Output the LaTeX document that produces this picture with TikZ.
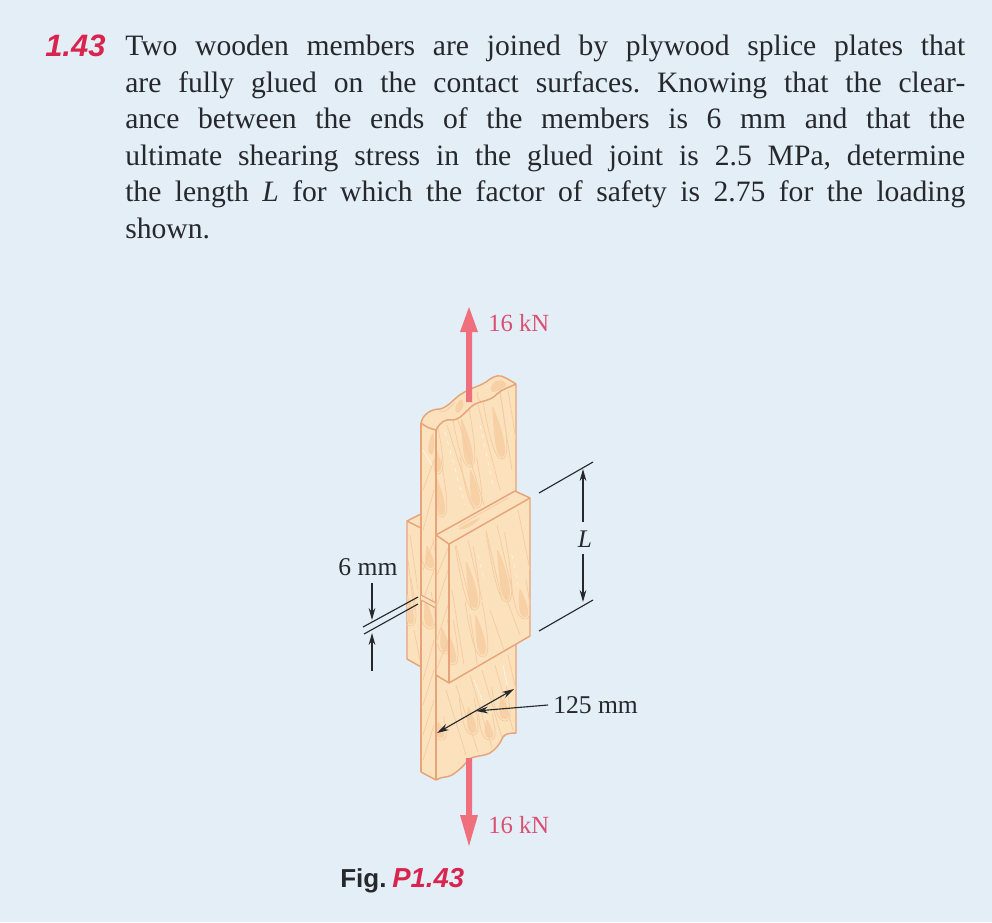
\documentclass[tikz,border=0pt]{standalone}
\usepackage{fontspec}
\setmainfont{Liberation Serif}
\setsansfont{Liberation Sans}
\usetikzlibrary{arrows.meta}
\definecolor{bgc}{HTML}{E4EEF7}
\definecolor{woodc}{HTML}{FCE1BD}
\definecolor{edgec}{HTML}{E7A47A}
\definecolor{grainc}{HTML}{F5CBA3}
\definecolor{tearc}{HTML}{F8D0A5}
\definecolor{forcec}{HTML}{EF6F7C}
\definecolor{magc}{HTML}{D8254F}
\definecolor{kNc}{HTML}{DB4F72}
\definecolor{inkc}{HTML}{26282C}
% flame-shaped grain figure: rounded foot at (x,y), thin tip h above it, leaning left
\newcommand{\woodtear}[3]{%
\fill[tearc] (#1-#3*0.2,#2-#3) .. controls (#1-#3*0.05-5,#2-#3*0.4) and (#1-7,#2) .. (#1,#2) .. controls (#1+6,#2) and (#1+3,#2-#3*0.45) .. (#1-#3*0.2+1,#2-#3) -- cycle;
\draw[grain] (#1-#3*0.3-6,#2-#3*1.35) .. controls (#1-#3*0.12-8,#2-#3*0.5) and (#1-8,#2+2) .. (#1,#2+2) .. controls (#1+8,#2+2) and (#1+5,#2-#3*0.5) .. (#1-#3*0.15+5,#2-#3*1.35);}
\tikzset{
  x=0.75pt,y=-0.75pt,
  wood/.style={fill=woodc,draw=edgec,line width=1.1pt,line join=round},
  grain/.style={draw=grainc,line width=0.55pt},
  edgeline/.style={draw=edgec,line width=1.1pt},
  dimline/.style={draw=inkc,line width=0.85pt},
  dimarrow/.style={draw=inkc,line width=0.85pt,-{Stealth[length=9pt,width=5pt]}},
  force/.style={fill=forcec,draw=none},
  lbl/.style={font=\fontsize{19.2}{22}\selectfont,text=inkc,inner sep=0pt},
  kN/.style={font=\fontsize{18.5}{22}\selectfont,text=kNc,inner sep=0pt,anchor=west},
}
\begin{document}
\begin{tikzpicture}
\useasboundingbox[fill=bgc] (0,0) rectangle (992,922);

% problem text
\node[inner sep=0pt,anchor=north west,text=inkc,align=left,font=\fontsize{22.2}{27.35}\selectfont\frenchspacing] (body) at (125,35)
{\makebox[840\dimexpr0.75pt\relax][s]{Two wooden members are joined by plywood splice plates that}\\
\makebox[840\dimexpr0.75pt\relax][s]{are fully glued on the contact surfaces. Knowing that the clear-}\\
\makebox[840\dimexpr0.75pt\relax][s]{ance between the ends of the members is 6 mm and that the}\\
\makebox[840\dimexpr0.75pt\relax][s]{ultimate shearing stress in the glued joint is 2.5 MPa, determine}\\
\makebox[840\dimexpr0.75pt\relax][s]{the length \textit{L} for which the factor of safety is 2.75 for the loading}\\
shown.};
\node[inner sep=0pt,anchor=base west,text=magc,font=\fontsize{23.2}{26}\selectfont\sffamily\bfseries\itshape] (num) at (45,56) {1.43};

% back plate
\path[wood] (407,521) -- (421,514) -- (436,522) -- (436,675) -- (421,667) -- (407,659) -- cycle;
\begin{scope}
\clip (407,521) -- (421,528) -- (421,667) -- (407,659) -- cycle;
\woodtear{411}{624}{34}
\draw[grain] (410,535) -- (418,590) (408,560) -- (414,610) (414,630) -- (420,660);
\end{scope}
\draw[edgeline] (407,521) -- (421,528);

% main member
\path[wood] (421,423) .. controls (423,414) and (431,409) .. (440,409)
  .. controls (449,407) and (456,396) .. (463,393) .. controls (470,388) and (478,387) .. (486,382)
  .. controls (491,378) and (496,375) .. (501,376) .. controls (507,378) and (511,381) .. (516,384) -- (516,733)
  .. controls (509,733) and (505,734) .. (503,737) .. controls (500,744) and (496,749) .. (490,753)
  .. controls (482,757) and (474,755) .. (468,760) .. controls (463,767) and (458,771) .. (452,775)
  .. controls (447,778) and (442,776) .. (436,780) -- (421,772) -- cycle;

% front face grain
\begin{scope}
\clip (436,430) .. controls (441,421) and (446,419) .. (452,420) .. controls (460,420) and (465,412) .. (472,406)
  .. controls (480,400) and (490,402) .. (497,394) .. controls (502,389) and (510,387) .. (516,384) -- (516,733)
  .. controls (509,733) and (505,734) .. (503,737) .. controls (500,744) and (496,749) .. (490,753)
  .. controls (482,757) and (474,755) .. (468,760) .. controls (463,767) and (458,771) .. (452,775)
  .. controls (447,778) and (442,776) .. (436,780) -- cycle;
\woodtear{470}{465}{46}
\woodtear{502}{457}{50}
\woodtear{442}{515}{42}
\woodtear{477}{506}{36}
\woodtear{438}{472}{32}
\woodtear{473}{733}{26}
\woodtear{505}{719}{24}
\woodtear{490}{738}{18}
\woodtear{441}{738}{16}
\draw[grain] (447,425) -- (474,510) (458,420) -- (484,505) (478,405) -- (500,490) (500,393) -- (512,470) (508,390) -- (516,440);
\draw[grain] (446,690) -- (466,755) (456,685) -- (478,752) (470,675) -- (492,748) (482,670) -- (502,738) (495,665) -- (513,730) (508,655) -- (516,690);
\draw[white!65!woodc,line width=0.5pt,dash pattern=on 3pt off 4pt] (445,432) -- (465,505) (480,425) -- (494,490);
\draw[white!55!woodc,line width=0.6pt] (474,680) -- (482,700) (503,665) -- (507,685);
\end{scope}

% top surface loops
\begin{scope}
\clip (421,423) .. controls (423,414) and (431,409) .. (440,409)
  .. controls (449,407) and (456,396) .. (463,393) .. controls (470,388) and (478,387) .. (486,382)
  .. controls (491,378) and (496,375) .. (501,376) .. controls (507,378) and (511,381) .. (516,384)
  .. controls (510,387) and (502,389) .. (497,394) .. controls (490,402) and (480,400) .. (472,406)
  .. controls (465,412) and (460,420) .. (452,420) .. controls (446,419) and (441,421) .. (436,430) -- cycle;
\fill[tearc] (496,381) .. controls (501,379) and (507,382) .. (506,385) .. controls (503,390) and (496,392) .. (492,392) .. controls (489,389) and (492,383) .. (496,381) -- cycle;
\fill[tearc] (460,400) .. controls (463,398) and (464,402) .. (463,407) .. controls (461,412) and (458,414) .. (456,412) .. controls (454,408) and (457,403) .. (460,400) -- cycle;
\draw[grain] (440,412) .. controls (446,412) and (450,408) .. (455,402) (478,392) .. controls (476,396) and (478,400) .. (482,402);
\end{scope}
\draw[edgeline] (421,423) .. controls (426,427) and (431,429) .. (436,430)
  .. controls (441,421) and (446,419) .. (452,420) .. controls (460,420) and (465,412) .. (472,406)
  .. controls (480,400) and (490,402) .. (497,394) .. controls (502,389) and (510,387) .. (516,384);

% side face grain
\begin{scope}
\clip (421,423) -- (436,430) -- (436,780) -- (421,772) -- cycle;
\fill[tearc] (433,432) .. controls (435,440) and (435,450) .. (432,455) .. controls (428,455) and (426,445) .. (433,432) -- cycle;
\fill[tearc] (436,476) .. controls (433,472) and (433,462) .. (436,450) -- cycle;
\woodtear{431}{568}{22}
\woodtear{430}{627}{26}
\draw[grain] (423,490) -- (434,460) (423,530) -- (434,490) (423,570) -- (434,540) (423,600) -- (434,570) (423,680) -- (434,640) (423,705) -- (434,670) (423,735) -- (434,700) (423,760) -- (434,725);
\draw[white!65!woodc,line width=0.5pt] (423,450) -- (432,465);
\end{scope}
\draw[edgeline] (436,430) -- (436,780);
\draw[edgeline] (421,423) -- (421,772);

% gap between ends of the members
\fill[woodc] (421,595) -- (436,603) -- (436,608) -- (421,600) -- cycle;
\draw[edgeline,line width=0.8pt] (421,595) -- (436,603) (421,600) -- (436,608);

% front plate
\path[wood] (436,535) -- (515,491) -- (530,498) -- (530,636) -- (449,683) -- (436,675) -- cycle;
\begin{scope}
\clip (449,544) -- (530,498) -- (530,636) -- (449,683) -- cycle;
\woodtear{475}{608}{46}
\woodtear{507}{600}{50}
\woodtear{483}{655}{40}
\woodtear{525}{617}{28}
\woodtear{453}{663}{32}
\draw[grain] (456,545) -- (472,610) (468,540) -- (482,600) (486,530) -- (502,600) (497,525) -- (512,590) (518,510) -- (530,570) (452,590) -- (464,665) (490,610) -- (504,650) (505,595) -- (520,635) (470,615) -- (478,670);
\draw[white!55!woodc,line width=0.5pt,dash pattern=on 3pt off 4pt] (478,555) -- (484,580) (512,555) -- (518,585);
\end{scope}
\begin{scope}
\clip (436,535) -- (449,544) -- (449,683) -- (436,675) -- cycle;
\woodtear{446}{652}{24}
\draw[grain] (437,575) -- (448,548) (437,605) -- (448,570) (437,640) -- (448,605) (437,668) -- (448,640);
\end{scope}
\draw[edgeline] (436,535) -- (449,544) -- (530,498);
\draw[edgeline] (449,544) -- (449,683);
\fill[tearc] (458,529) .. controls (468,522) and (474,520) .. (480,518) .. controls (476,524) and (464,531) .. (458,529) -- cycle;
\draw[grain] (459,526) .. controls (472,518) and (490,508) .. (508,498);

% forces
\path[force] (466,402) -- (466,332) -- (460,332) -- (469,307) -- (478,332) -- (472,332) -- (472,402) -- cycle;
\path[force] (466,758) -- (466,815) -- (460,815) -- (469,846) -- (478,815) -- (472,815) -- (472,758) -- cycle;
\node[kN] (ftop) at (488,323) {16 kN};
\node[kN] (fbot) at (488,825) {16 kN};

% L dimension
\coordinate (lt1) at (539,493); \coordinate (lt2) at (593,462);
\coordinate (lb1) at (539,631); \coordinate (lb2) at (593,600);
\draw[dimline] (lt1) -- (lt2);
\draw[dimline] (lb1) -- (lb2);
\node[lbl,font=\fontsize{19}{22}\selectfont\itshape] (ell) at (585,539) {L};
\coordinate (la) at (583,522); \coordinate (lat) at (583,469);
\coordinate (lc) at (583,554); \coordinate (lct) at (583,602);
\draw[dimarrow] (la) -- (lat);
\draw[dimarrow] (lc) -- (lct);

% 6 mm dimension
\node[lbl] (six) at (368,567) {6 mm};
\coordinate (g1a) at (363,627); \coordinate (g1b) at (418,597);
\coordinate (g2a) at (364,634); \coordinate (g2b) at (418,604);
\draw[dimline] (g1a) -- (g1b);
\draw[dimline] (g2a) -- (g2b);
\coordinate (s1) at (372,583); \coordinate (s1t) at (372,620);
\coordinate (s2) at (372,671); \coordinate (s2t) at (372,633);
\draw[dimarrow] (s1) -- (s1t);
\draw[dimarrow] (s2) -- (s2t);

% 125 mm dimension
\node[lbl,anchor=west] (wid) at (553,705) {125 mm};
\coordinate (wa) at (437,733); \coordinate (wb) at (514,689); \coordinate (wc) at (476,711);
\draw[draw=inkc,line width=0.85pt,{Stealth[length=9pt,width=5pt]}-{Stealth[length=9pt,width=5pt]}] (wa) -- (wb);
\draw[dimarrow] (wid.west) ++(-5,0) -- (wc);

% caption
\node[inner sep=0pt,anchor=base west,text=inkc,font=\fontsize{19.5}{22}\selectfont\sffamily\bfseries] (fig) at (340,887) {Fig.\ \kern-1pt\textcolor{magc}{\fontsize{20.6}{22}\selectfont\itshape P1.43}};
\end{tikzpicture}
\end{document}
